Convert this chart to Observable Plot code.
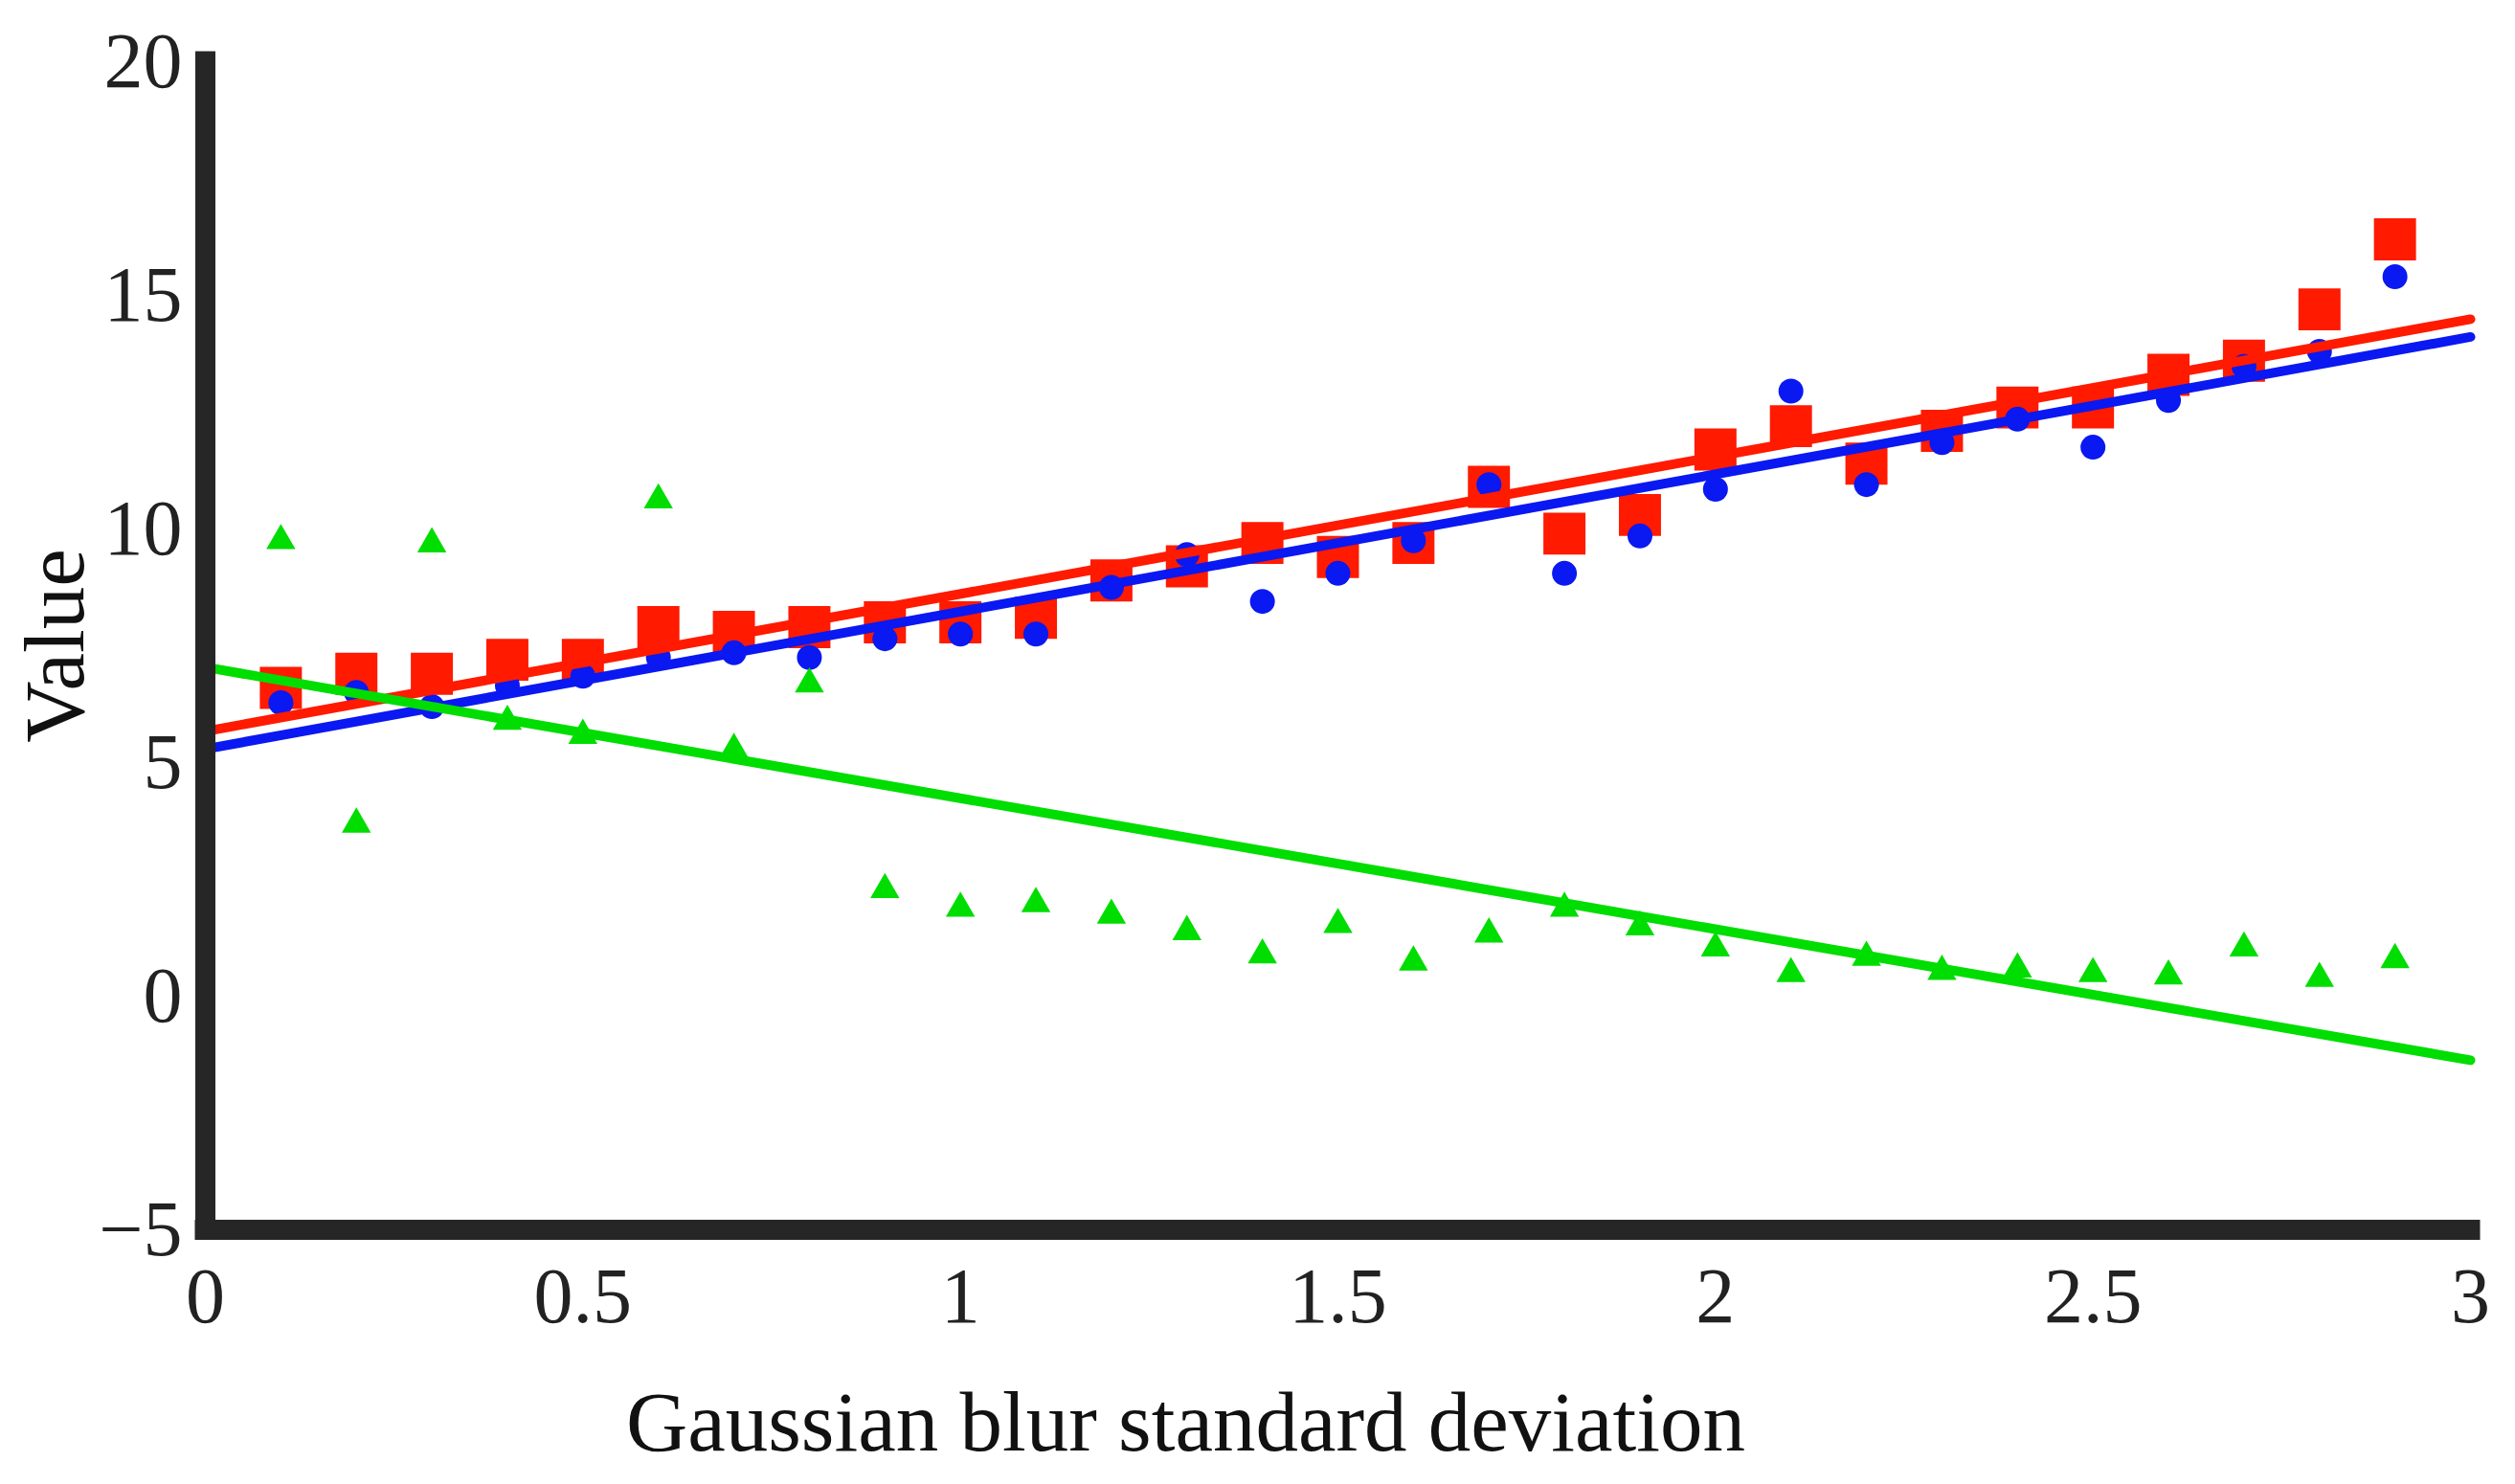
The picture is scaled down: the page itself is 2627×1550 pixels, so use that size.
<!DOCTYPE html>
<html>
<head>
<meta charset="utf-8">
<script src="https://cdn.jsdelivr.net/npm/d3@7"></script>
<script src="https://cdn.jsdelivr.net/npm/@observablehq/plot@0.6"></script>
<style>
  html, body { margin: 0; padding: 0; background: #ffffff; }
  #chart { width: 2627px; height: 1550px; }
</style>
</head>
<body>
<div id="chart"></div>
<script>
// Gaussian blur standard deviation (x categories)
const sigma = [0.1,0.2,0.3,0.4,0.5,0.6,0.7,0.8,0.9,1.0,1.1,1.2,1.3,1.4,1.5,1.6,1.7,1.8,1.9,2.0,2.1,2.2,2.3,2.4,2.5,2.6,2.7,2.8,2.9];

// Series values
const redValues   = [6.6,6.9,6.9,7.2,7.2,7.9,7.8,7.9,8.0,8.0,8.1,8.9,9.2,9.7,9.4,9.7,10.9,9.9,10.3,11.7,12.2,11.4,12.1,12.6,12.6,13.3,13.6,14.7,16.2];
const blueValues  = [6.28,6.5,6.2,6.65,6.85,7.25,7.35,7.25,7.65,7.75,7.75,8.75,9.45,8.45,9.05,9.75,10.95,9.05,9.85,10.85,12.95,10.95,11.85,12.35,11.75,12.75,13.48,13.8,15.4];
const greenValues = [9.75,3.68,9.68,5.88,5.58,10.62,5.28,6.68,2.28,1.88,1.98,1.73,1.38,0.88,1.53,0.73,1.33,1.88,1.48,1.03,0.48,0.83,0.53,0.58,0.48,0.43,1.03,0.38,0.78];

// Fitted lines (end points)
const fitX      = [0, 3];
const redFit    = [5.67, 14.49];
const blueFit   = [5.29, 14.11];
const greenFit  = [7.04, -1.37];

// Tick labels
const xTicks = [0, 0.5, 1, 1.5, 2, 2.5, 3];
const yTicks = [-5, 0, 5, 10, 15, 20];

const xLabel = "Gaussian blur standard deviation";
const yLabel = "Value";

const RED = "#ff1a00", BLUE = "#0a18f2", GREEN = "#00dd00", AXIS = "#262626";

const pts = (vals) => sigma.map((x, i) => ({x, y: vals[i]}));
const fit = (vals) => fitX.map((x, i) => ({x, y: vals[i]}));

const chart = Plot.plot({
  width: 2627,
  height: 1550,
  marginLeft: 214,
  marginRight: 47,
  marginTop: 64,
  marginBottom: 266,
  style: {fontFamily: "'Liberation Serif', 'Times New Roman', serif", background: "#ffffff", color: "#222222", fontSize: "82px"},
  x: {domain: [0, 3]},
  y: {domain: [-5, 20]},
  marks: [
    Plot.axisX({ticks: xTicks, tickSize: 0, tickPadding: 38, fontSize: 82, tickFormat: d => String(d), label: null}),
    Plot.axisY({ticks: yTicks, tickSize: 0, tickPadding: 24, fontSize: 82, tickFormat: d3.format("d"), label: null}),
    Plot.dot(pts(redValues), {x: "x", y: "y", symbol: "square", r: 24.8, fill: RED}),
    Plot.dot(pts(blueValues), {x: "x", y: "y", symbol: "circle", r: 13, fill: BLUE}),
    Plot.dot(pts(greenValues), {x: "x", y: "y", symbol: "triangle", r: 11.3, fill: GREEN}),
    Plot.line(fit(redFit), {x: "x", y: "y", stroke: RED, strokeWidth: 10}),
    Plot.line(fit(blueFit), {x: "x", y: "y", stroke: BLUE, strokeWidth: 10}),
    Plot.line(fit(greenFit), {x: "x", y: "y", stroke: GREEN, strokeWidth: 10}),
    Plot.ruleX([0], {y1: -5, y2: 20, stroke: AXIS, strokeWidth: 21, strokeLinecap: "square"}),
    Plot.ruleY([-5], {x1: 0, x2: 3, stroke: AXIS, strokeWidth: 21, strokeLinecap: "square"}),
    Plot.text([xLabel], {frameAnchor: "bottom-left", dx: 1024, dy: 202, text: d => d, fontSize: 89, textAnchor: "middle", lineAnchor: "middle", fill: "#111111"}),
    Plot.text([yLabel], {frameAnchor: "left", dx: -156, text: d => d, fontSize: 89, rotate: -90, textAnchor: "middle", lineAnchor: "middle", fill: "#111111"})
  ]
});
document.getElementById("chart").appendChild(chart);
</script>
</body>
</html>
